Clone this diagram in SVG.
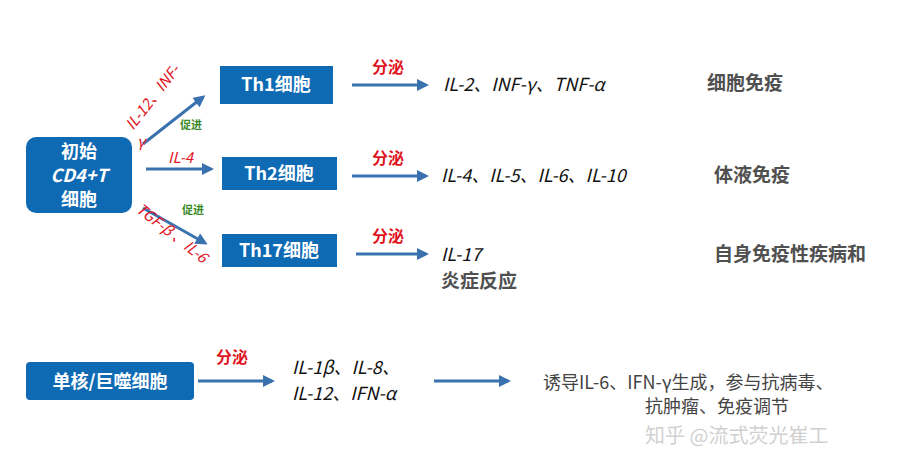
<svg xmlns="http://www.w3.org/2000/svg" width="920" height="450" viewBox="0 0 920 450">
<style>
.box{fill:#0f6ab4}
.bt{fill:#fff;font-family:"Noto Sans CJK SC",sans-serif;font-weight:bold;font-size:18px;text-anchor:middle}
.red{fill:#e0141e;font-family:"Noto Sans CJK SC",sans-serif;font-size:15px}
.redb{fill:#e0141e;font-family:"Noto Sans CJK SC",sans-serif;font-weight:bold;font-size:16px}
.grn{fill:#3a8a2a;font-family:"Noto Sans CJK SC",sans-serif;font-weight:bold;font-size:11px}
.blk{fill:#111;font-family:"Noto Sans CJK SC",sans-serif;font-size:18px}
.gry{fill:#505050;font-family:"Noto Sans CJK SC",sans-serif;font-weight:bold;font-size:19px}
.ln{stroke:#3a72b0;stroke-width:3;fill:none;marker-end:url(#ah)}
</style>
<defs><marker id="ah" markerWidth="4" markerHeight="4" refX="3" refY="2" orient="auto"><path d="M0,0 L4,2 L0,4 z" fill="#3a72b0"/></marker></defs>
<rect width="920" height="450" fill="#fff"/>
<g id="naive"><rect class="box" x="26" y="137" width="106" height="76" rx="10"/><text class="bt" x="79" y="158" font-size="16">初始</text><text class="bt" x="79" y="182" font-size="16" font-style="italic">CD4+T</text><text class="bt" x="79" y="206" font-size="16">细胞</text></g>
<g id="th1"><rect class="box" x="220" y="66" width="113" height="38"/><text class="bt" x="276" y="91">Th1细胞</text></g>
<g id="th2"><rect class="box" x="222" y="157" width="115" height="33"/><text class="bt" x="279" y="180">Th2细胞</text></g>
<g id="th17"><rect class="box" x="222" y="234" width="115" height="33"/><text class="bt" x="279" y="257">Th17细胞</text></g>
<g id="mono"><rect class="box" x="26" y="362" width="168" height="38" rx="4"/><text class="bt" x="110" y="388">单核/巨噬细胞</text></g>
<g id="connectors">
<line class="ln" x1="143" y1="144" x2="203" y2="97"/>
<line class="ln" x1="146" y1="169" x2="211" y2="169"/>
<line class="ln" x1="143" y1="208" x2="205" y2="243"/>
<line class="ln" x1="352" y1="85" x2="426" y2="85"/>
<line class="ln" x1="352" y1="176" x2="426" y2="176"/>
<line class="ln" x1="356" y1="254" x2="426" y2="254"/>
<line class="ln" x1="198" y1="381" x2="272" y2="381"/>
<line class="ln" x1="434" y1="381" x2="508" y2="381"/>
</g>
<g id="labels">
<text class="red" transform="translate(133,131) rotate(-52)" font-style="italic">IL-12、INF-</text>
<text class="red" x="137" y="147" font-style="italic">γ</text>
<text class="grn" x="180" y="129">促进</text>
<text class="red" x="168" y="163" font-style="italic">IL-4</text>
<text class="grn" x="182" y="214">促进</text>
<text class="red" transform="translate(135,211) rotate(38)" font-style="italic">TGF-β 、IL-6</text>
<text class="redb" x="372" y="73">分泌</text>
<text class="redb" x="372" y="164">分泌</text>
<text class="redb" x="372" y="242">分泌</text>
<text class="redb" x="216" y="363">分泌</text>
<text class="blk" x="443" y="91" font-style="italic">IL-2、INF-γ、TNF-α</text>
<text class="blk" x="441" y="182" font-style="italic">IL-4、IL-5、IL-6、IL-10</text>
<text class="blk" x="441" y="261" font-style="italic">IL-17</text>
<text class="gry" x="441" y="288" font-size="18">炎症反应</text>
<text class="gry" x="707" y="90">细胞免疫</text>
<text class="gry" x="714" y="182">体液免疫</text>
<text class="gry" x="714" y="261">自身免疫性疾病和</text>
<text class="blk" x="292" y="374" font-size="16" font-style="italic">IL-1β、IL-8、</text>
<text class="blk" x="292" y="400" font-size="16" font-style="italic">IL-12、IFN-α</text>
<text class="blk" x="543" y="389" style="fill:#444">诱导IL-6、IFN-γ生成，参与抗病毒、</text>
<text class="blk" x="645" y="413" style="fill:#444">抗肿瘤、免疫调节</text>
<text x="645" y="443" font-family="Noto Sans CJK SC,sans-serif" font-size="20" fill="#bbb" fill-opacity="0.7">知乎 @流式荧光崔工</text>
</g>
</svg>
